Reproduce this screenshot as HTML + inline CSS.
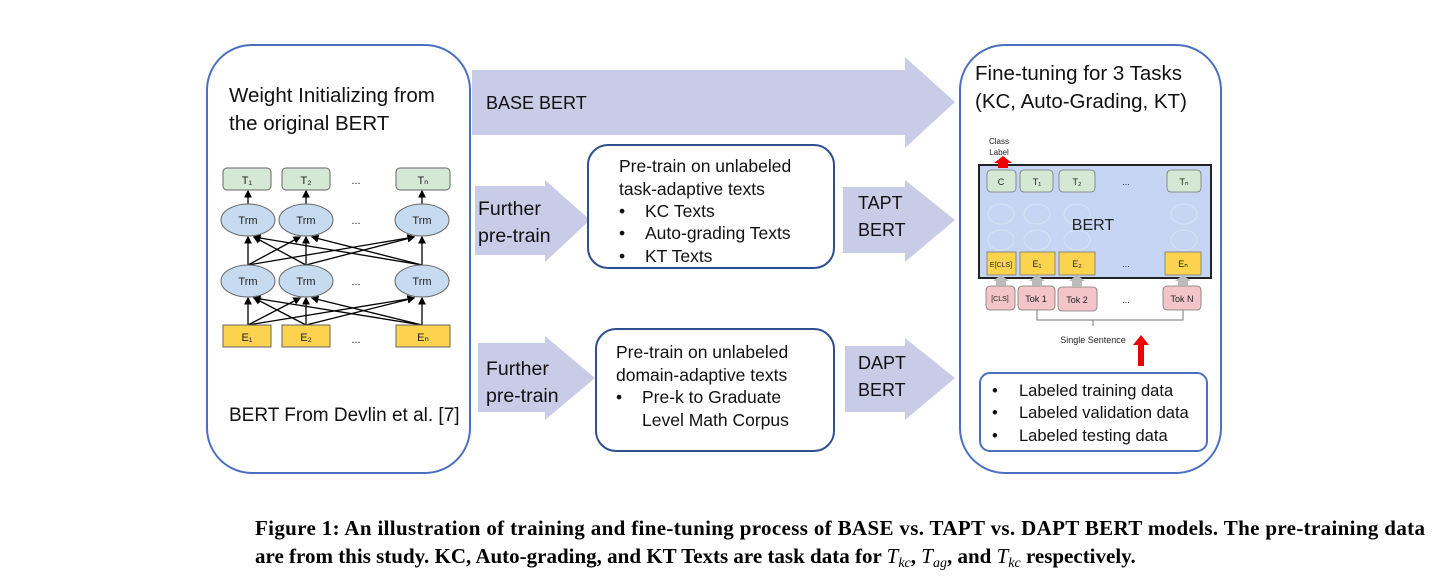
<!DOCTYPE html>
<html><head><meta charset="utf-8"><style>
html,body{margin:0;padding:0;background:#fff;width:1440px;height:588px;overflow:hidden}
svg{display:block}
.s{font-family:"Liberation Sans",sans-serif}
.cap{font-family:"Liberation Serif",serif;font-weight:bold;font-size:21px}
</style></head><body>
<svg width="1440" height="588" viewBox="0 0 1440 588">
<defs><marker id="ah" markerWidth="6" markerHeight="6" refX="5" refY="3" orient="auto"><path d="M0,0 L6,3 L0,6 z" fill="#000"/></marker></defs>
<g fill="#c9cce7">
<polygon points="472,70 905,70 905,57 955,102 905,148 905,135 472,135"/>
<polygon points="475,186 545,186 545,180 590,220 545,262 545,255 475,255"/>
<polygon points="843,187 905,187 905,180 955,220 905,262 905,253 843,253"/>
<polygon points="478,343 545,343 545,336 595,378 545,420 545,412 478,412"/>
<polygon points="845,346 905,346 905,338 955,378 905,420 905,412 845,412"/>
</g>
<rect x="207" y="45" width="263" height="428" rx="45" fill="#fff" stroke="#4a6fc0" stroke-width="2"/>
<rect x="960" y="45" width="261" height="428" rx="45" fill="#fff" stroke="#4a6fc0" stroke-width="2"/>
<rect x="588" y="145" width="246" height="123" rx="20" fill="#fff" stroke="#2f4f8f" stroke-width="2"/>
<rect x="596" y="329" width="238" height="122" rx="20" fill="#fff" stroke="#2f4f8f" stroke-width="2"/>
<rect x="980" y="373" width="227" height="78" rx="10" fill="#fff" stroke="#4a6fc0" stroke-width="2"/>
<g class="s" font-size="18" fill="#111">
<text x="229" y="102" font-size="20.5">Weight Initializing from</text>
<text x="229" y="130" font-size="20.5">the original BERT</text>
<text x="229" y="421" font-size="19">BERT From Devlin et al. [7]</text>
<text x="486" y="109">BASE BERT</text>
<text x="478" y="215" font-size="19.5">Further</text>
<text x="478" y="242" font-size="19.5">pre-train</text>
<text x="486" y="375" font-size="19.5">Further</text>
<text x="486" y="402" font-size="19.5">pre-train</text>
<text x="858" y="209">TAPT</text>
<text x="858" y="236">BERT</text>
<text x="858" y="369">DAPT</text>
<text x="858" y="396">BERT</text>
<text x="975" y="80" font-size="20.5">Fine-tuning for 3 Tasks</text>
<text x="975" y="108" font-size="20.5">(KC, Auto-Grading, KT)</text>
</g>
<g class="s" font-size="17.5" fill="#111">
<text x="619" y="172">Pre-train on unlabeled</text>
<text x="619" y="195">task-adaptive texts</text>
<text x="619" y="217">•</text><text x="645" y="217">KC Texts</text>
<text x="619" y="239">•</text><text x="645" y="239">Auto-grading Texts</text>
<text x="619" y="262">•</text><text x="645" y="262">KT Texts</text>
<text x="616" y="358">Pre-train on unlabeled</text>
<text x="616" y="381">domain-adaptive texts</text>
<text x="616" y="403">•</text><text x="642" y="403">Pre-k to Graduate</text>
<text x="642" y="426">Level Math Corpus</text>
</g>
<g class="s" font-size="16.5" fill="#111">
<text x="992" y="396">•</text><text x="1019" y="396">Labeled training data</text>
<text x="992" y="418">•</text><text x="1019" y="418">Labeled validation data</text>
<text x="992" y="441">•</text><text x="1019" y="441">Labeled testing data</text>
</g>
<!-- left BERT -->
<g stroke="#000" stroke-width="1.3" marker-end="url(#ah)">
<line x1="248" y1="325" x2="248" y2="298"/><line x1="306" y1="325" x2="306" y2="298"/><line x1="422" y1="325" x2="422" y2="298"/>
<line x1="248" y1="325" x2="300" y2="298"/><line x1="248" y1="325" x2="414" y2="298"/>
<line x1="306" y1="325" x2="254" y2="298"/><line x1="306" y1="325" x2="414" y2="298"/>
<line x1="422" y1="325" x2="254" y2="298"/><line x1="422" y1="325" x2="312" y2="298"/>
<line x1="248" y1="265" x2="248" y2="237"/><line x1="306" y1="265" x2="306" y2="237"/><line x1="422" y1="265" x2="422" y2="237"/>
<line x1="248" y1="265" x2="300" y2="237"/><line x1="248" y1="265" x2="414" y2="237"/>
<line x1="306" y1="265" x2="254" y2="237"/><line x1="306" y1="265" x2="414" y2="237"/>
<line x1="422" y1="265" x2="254" y2="237"/><line x1="422" y1="265" x2="312" y2="237"/>
<line x1="248" y1="204" x2="248" y2="191"/><line x1="306" y1="204" x2="306" y2="191"/><line x1="422" y1="204" x2="422" y2="191"/>
</g>
<g stroke="#666" stroke-width="1">
<rect x="223" y="168" width="48" height="22" rx="4" fill="#d5e8d4"/><rect x="282" y="168" width="48" height="22" rx="4" fill="#d5e8d4"/><rect x="396" y="168" width="54" height="22" rx="4" fill="#d5e8d4"/>
<ellipse cx="248" cy="220" rx="27" ry="16" fill="#c6daf0"/><ellipse cx="306" cy="220" rx="27" ry="16" fill="#c6daf0"/><ellipse cx="422" cy="220" rx="27" ry="16" fill="#c6daf0"/>
<ellipse cx="248" cy="281" rx="27" ry="16" fill="#c6daf0"/><ellipse cx="306" cy="281" rx="27" ry="16" fill="#c6daf0"/><ellipse cx="422" cy="281" rx="27" ry="16" fill="#c6daf0"/>
<rect x="223" y="325" width="48" height="22" fill="#fbd34f"/><rect x="282" y="325" width="48" height="22" fill="#fbd34f"/><rect x="396" y="325" width="54" height="22" fill="#fbd34f"/>
</g>
<g class="s" font-size="11" fill="#222" text-anchor="middle">
<text x="247" y="184">T₁</text><text x="306" y="184">T₂</text><text x="423" y="184">Tₙ</text>
<text x="248" y="224">Trm</text><text x="306" y="224">Trm</text><text x="422" y="224">Trm</text>
<text x="248" y="285">Trm</text><text x="306" y="285">Trm</text><text x="422" y="285">Trm</text>
<text x="247" y="341">E₁</text><text x="306" y="341">E₂</text><text x="423" y="341">Eₙ</text>
<text x="356" y="184">...</text><text x="356" y="224">...</text><text x="356" y="285">...</text><text x="356" y="343">...</text>
</g>
<!-- right BERT -->
<rect x="979" y="165" width="232" height="113" fill="#c5d5f3" stroke="#222" stroke-width="2"/>
<g stroke="#d8e2f5" fill="none">
<ellipse cx="1001" cy="214" rx="13" ry="10"/><ellipse cx="1037" cy="214" rx="13" ry="10"/><ellipse cx="1077" cy="214" rx="13" ry="10"/><ellipse cx="1184" cy="214" rx="13" ry="10"/>
<ellipse cx="1001" cy="240" rx="13" ry="10"/><ellipse cx="1037" cy="240" rx="13" ry="10"/><ellipse cx="1077" cy="240" rx="13" ry="10"/><ellipse cx="1184" cy="240" rx="13" ry="10"/>
</g>
<g stroke="#777" stroke-width="0.8">
<rect x="987" y="170" width="29" height="22" rx="4" fill="#d5e8d4"/><rect x="1020" y="170" width="33" height="22" rx="4" fill="#d5e8d4"/><rect x="1059" y="170" width="36" height="22" rx="4" fill="#d5e8d4"/><rect x="1167" y="170" width="34" height="22" rx="4" fill="#d5e8d4"/>
<rect x="987" y="252" width="29" height="23" fill="#fbd34f"/><rect x="1020" y="252" width="35" height="23" fill="#fbd34f"/><rect x="1059" y="252" width="36" height="23" fill="#fbd34f"/><rect x="1165" y="252" width="36" height="23" fill="#fbd34f"/>
<rect x="986" y="286" width="29" height="24" rx="4" fill="#f3c5c8"/><rect x="1018" y="286" width="37" height="24" rx="4" fill="#f3c5c8"/><rect x="1058" y="287" width="39" height="24" rx="4" fill="#f3c5c8"/><rect x="1163" y="286" width="38" height="24" rx="4" fill="#f3c5c8"/>
</g>
<g fill="#bbb"><polygon points="996,286 996,281 993,281 1001,275 1009,281 1006,281 1006,286"/><polygon points="1032,286 1032,281 1029,281 1037,275 1045,281 1042,281 1042,286"/><polygon points="1072,287 1072,281 1069,281 1077,275 1085,281 1082,281 1082,287"/><polygon points="1178,286 1178,281 1175,281 1183,275 1191,281 1188,281 1188,286"/></g>
<polyline points="1037,310 1037,320 1183,320 1183,310" fill="none" stroke="#777"/><line x1="1093" y1="320" x2="1093" y2="326" stroke="#777"/>
<polygon points="998,168 998,163 994,163 1003,156 1012,163 1008,163 1008,168" fill="#e00"/>
<polygon points="1138,366 1138,345 1133,345 1141,335 1149,345 1144,345 1144,366" fill="#e00"/>
<g class="s" fill="#222" text-anchor="middle">
<text x="999" y="144" font-size="8">Class</text><text x="999" y="155" font-size="8">Label</text>
<text x="1001" y="185" font-size="9">C</text><text x="1037" y="185" font-size="9">T₁</text><text x="1077" y="185" font-size="9">T₂</text><text x="1184" y="185" font-size="9">Tₙ</text>
<text x="1126" y="185" font-size="9">...</text>
<text x="1093" y="230" font-size="16">BERT</text>
<text x="1001" y="267" font-size="7">E[CLS]</text><text x="1037" y="267" font-size="9">E₁</text><text x="1077" y="267" font-size="9">E₂</text><text x="1183" y="267" font-size="9">Eₙ</text><text x="1126" y="267" font-size="9">...</text>
<text x="1000" y="301" font-size="7">[CLS]</text><text x="1036" y="302" font-size="9">Tok 1</text><text x="1077" y="303" font-size="9">Tok 2</text><text x="1182" y="302" font-size="9">Tok N</text><text x="1126" y="303" font-size="9">...</text>
<text x="1093" y="343" font-size="9">Single Sentence</text>
</g>
<text class="cap" x="255" y="535" textLength="1170" lengthAdjust="spacing">Figure 1: An illustration of training and fine-tuning process of BASE vs. TAPT vs. DAPT BERT models. The pre-training data</text>
<text class="cap" x="255" y="563">are from this study. KC, Auto-grading, and KT Texts are task data for <tspan font-style="italic" font-weight="normal">T<tspan font-size="14" dy="4">kc</tspan></tspan><tspan dy="-4">, </tspan><tspan font-style="italic" font-weight="normal">T<tspan font-size="14" dy="4">ag</tspan></tspan><tspan dy="-4">, and </tspan><tspan font-style="italic" font-weight="normal">T<tspan font-size="14" dy="4">kc</tspan></tspan><tspan dy="-4"> respectively.</tspan></text>
</svg>
</body></html>
